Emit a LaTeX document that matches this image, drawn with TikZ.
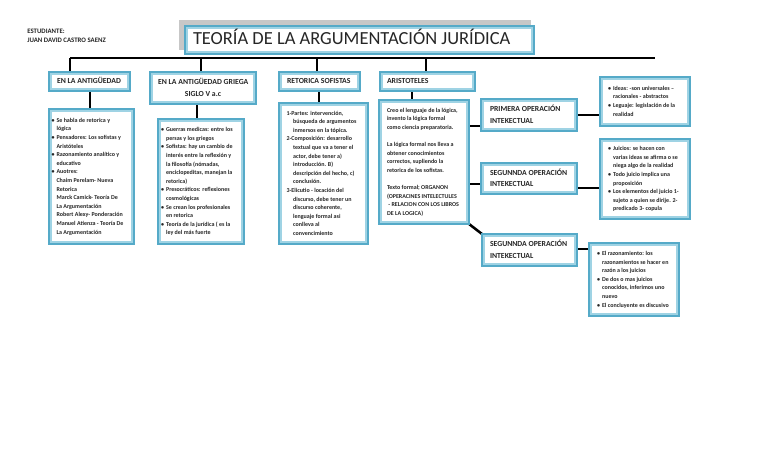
\documentclass[tikz,border=0pt]{standalone}
\usepackage{fontspec}
\setmainfont{Carlito}
\usetikzlibrary{calc}
\pgfdeclarelayer{bg}
\pgfdeclarelayer{paper}
\pgfsetlayers{paper,bg,main}
\definecolor{boxblue}{HTML}{55AAC8}
\definecolor{boxlight}{HTML}{9FD3E4}
\definecolor{inktext}{HTML}{262626}
\tikzset{
  box/.style={rectangle,draw=boxblue,line width=1.65pt,fill=white,inner sep=0pt,outer sep=0pt,text=inktext,
    path picture={\draw[boxlight,line width=4.6pt] (path picture bounding box.south west) rectangle (path picture bounding box.north east);}},
  bodytext/.style={font=\fontsize{4.5}{6.45}\selectfont\bfseries},
  headtext/.style={font=\fontsize{5.8}{8.6}\selectfont\bfseries},
  link/.style={line width=1.9pt,black},
}
\newcommand{\bx}[9][bodytext]{%
  \pgfmathsetmacro\bxcx{(#3+#5)/2}%
  \pgfmathsetmacro\bxcy{(#4+#6)/2}%
  \pgfmathsetlengthmacro\bxw{(#5-#3-2.2)*0.75pt}%
  \pgfmathsetlengthmacro\bxh{(#6-#4-2.2)*0.75pt}%
  \pgfmathsetlengthmacro\bxp{(#7-#3-1.1)*0.75pt}%
  \pgfmathsetlengthmacro\bxd{(#8)*0.75pt}%
  \node[box,#1,minimum width=\bxw,minimum height=\bxh] (#2) at (\bxcx,\bxcy)
    {\makebox[\bxw][l]{\hspace*{\bxp}\raisebox{\bxd}{\begin{tabular}{@{}l@{}}#9\end{tabular}}}};%
}
\newcommand{\bu}[1]{\makebox[3.8pt][l]{•}#1}
\newcommand{\ii}[1]{\hspace*{3.8pt}#1}
\begin{document}
\begin{tikzpicture}[x=0.75pt,y=-0.75pt]
\useasboundingbox (0,0) rectangle (768,466);
\begin{pgfonlayer}{paper}
\fill[white] (0,0) rectangle (768,466);
\fill[black!22] (179,20) rectangle (531,50);
\end{pgfonlayer}

\node[anchor=west,inner sep=0pt,text=inktext,font=\fontsize{5.1}{6.75}\selectfont\bfseries,align=left] (student) at (27,35.5) {ESTUDIANTE:\\JUAN DAVID CASTRO SAENZ};

\bx[font=\fontsize{13.85}{16}\selectfont]{title}{184}{25}{535}{55.5}{193}{-3}{TEORÍA DE LA ARGUMENTACIÓN JURÍDICA}

\bx[headtext]{a}{48}{71}{131}{92}{57}{-1.5}{EN LA ANTIGÜEDAD}
\bx[headtext]{b}{149}{71}{257}{105}{158}{0}{EN LA ANTIGÜEDAD GRIEGA\\\makebox[67.5pt][c]{SIGLO V a.c}}
\bx[headtext]{c}{278}{71}{361}{92}{287}{-1.5}{RETORICA SOFISTAS}
\bx[headtext]{d}{379}{71}{476}{92}{387}{-1.5}{ARISTOTELES}

\bx{e}{48}{108}{135}{245}{51.5}{2.5}{%
\bu{Se habla de retorica y}\\\ii{lógica}\\\bu{Pensadores: Los sofistas y}\\\ii{Aristóteles}\\\bu{Razonamiento analítico y}\\\ii{educativo}\\\bu{Auotres:}\\\ii{Chaim Perelam- Nueva}\\\ii{Retorica}\\\ii{Marck Camick- Teoría De}\\\ii{La Argumentación}\\\ii{Robert Alexy- Ponderación}\\\ii{Manuel Atienza - Teoría De}\\\ii{La Argumentación}}

\bx{f}{157}{118}{245}{245}{161}{2.5}{%
\bu{Guerras medicas: entre los}\\\ii{persas y los griegos}\\\bu{Sofistas: hay un cambio de}\\\ii{interés entre la reflexión y}\\\ii{la filosofía (nómadas,}\\\ii{enciclopeditas, manejan la}\\\ii{retorica)}\\\bu{Presocráticos: reflexiones}\\\ii{cosmológicas}\\\bu{Se crean los profesionales}\\\ii{en retorica}\\\bu{Teoría de la jurídica ( es la}\\\ii{ley del más fuerte}}

\bx{g}{278}{102}{369}{245}{286.5}{2.5}{%
1-Partes: intervención,\\\hspace*{5pt}búsqueda de argumentos\\\hspace*{5pt}inmersos en la tópica.\\2-Composición: desarrollo\\\hspace*{5pt}textual que va a tener el\\\hspace*{5pt}actor, debe tener a)\\\hspace*{5pt}introducción. B)\\\hspace*{5pt}descripción del hecho, c)\\\hspace*{5pt}conclusión.\\3-Elicutio - locación del\\\hspace*{5pt}discurso, debe tener un\\\hspace*{5pt}discurso coherente,\\\hspace*{5pt}lenguaje formal asi\\\hspace*{5pt}conlleva al\\\hspace*{5pt}convencimiento}

\bx{h}{378}{99}{470}{225}{387}{3}{%
\renewcommand{\arraystretch}{0.97}%
Creo el lenguaje de la lógica,\\invento la lógica formal\\como ciencia preparatoria.\\ \\La lógica formal nos lleva a\\obtener conocimientos\\correctos, supliendo la\\retorica de los sofistas.\\ \\Texto formal; ORGANON\\(OPERACINES INTELECTULES\\{} - RELACION CON LOS LIBROS\\DE LA LOGICA)}

\bx[headtext]{i}{480}{98}{578}{132}{490}{-0.5}{PRIMERA OPERACIÓN\\INTEKECTUAL}
\bx[headtext]{j}{480}{162}{578}{195}{490}{-0.5}{SEGUNNDA OPERACIÓN\\INTEKECTUAL}
\bx[headtext]{k}{481}{233}{578}{267}{490}{-0.5}{SEGUNNDA OPERACIÓN\\INTEKECTUAL}

\bx{r1}{599}{76}{691}{127}{608}{5}{%
\bu{Ideas: -son universales –}\\\ii{racionales - abstractos}\\\bu{Leguaje: legislación de la}\\\ii{realidad}}
\bx{r2}{599}{138}{691}{220}{608}{0}{%
\bu{Juicios: se hacen con}\\\ii{varias ideas se afirma o se}\\\ii{niega algo de la realidad}\\\bu{Todo juicio implica una}\\\ii{proposición}\\\bu{Los elementos del juicio 1-}\\\ii{sujeto a quien se dirije. 2-}\\\ii{predicado 3- copula}}
\bx{r3}{588}{242}{680}{317}{597}{1}{%
\bu{El razonamiento: los}\\\ii{razonamientos se hacer en}\\\ii{razón a los juicios}\\\bu{De dos o mas juicios}\\\ii{conocidos, inferimos uno}\\\ii{nuevo}\\\bu{El concluyente es discusivo}}

\coordinate (barL) at (70,58);
\coordinate (barR) at (655,58);
\coordinate (barB) at (201,58);
\coordinate (barC) at (317,58);
\coordinate (barD) at (426,58);
\coordinate (ae) at (90,92);
\coordinate (bf) at (197,105);
\coordinate (cg) at (319,92);
\coordinate (dh) at (412,92);
\coordinate (hi) at ($(i.west)+(0,11)$);
\coordinate (hj) at ($(j.west)+(0,5.5)$);
\coordinate (jr) at ($(j.east)+(0,9.5)$);
\coordinate (kr) at ($(k.east)+(0,-1)$);
\begin{pgfonlayer}{bg}
\draw[link] (barL) -- (barR);
\draw[link] (barL) -- (barL |- a.north);
\draw[link] (barB) -- (barB |- b.north);
\draw[link] (barC) -- (barC |- c.north);
\draw[link] (barD) -- (barD |- d.north);
\draw[link] (ae) -- (ae |- e.north);
\draw[link] (bf) -- (bf |- f.north);
\draw[link] (cg) -- (cg |- g.north);
\draw[link] (dh) -- (dh |- h.north);
\draw[link] (hi) -- (hi -| h.east);
\draw[link] (hj) -- (hj -| h.east);
\draw[link] (h.south east) -- (k.north west);
\draw[link] (i.east) -- (i.east -| r1.west);
\draw[link] (jr) -- (jr -| r2.west);
\draw[link] (kr) -- (kr -| r3.west);
\end{pgfonlayer}
\end{tikzpicture}
\end{document}
